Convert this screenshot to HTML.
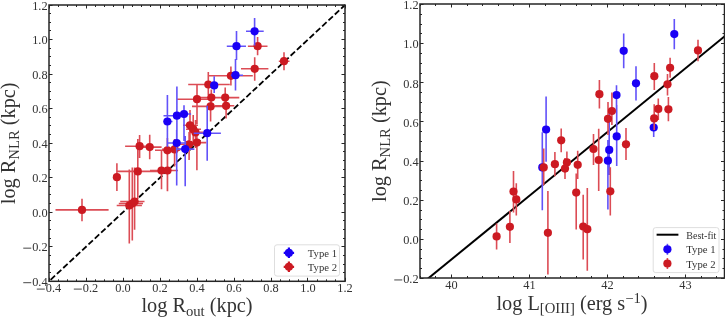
<!DOCTYPE html>
<html><head><meta charset="utf-8"><style>
html,body{margin:0;padding:0;background:#fff;width:725px;height:317px;overflow:hidden}
svg{display:block;will-change:transform}
text{font-family:"Liberation Serif",serif}
</style></head><body>
<svg width="725" height="317" viewBox="0 0 725 317">
<rect width="725" height="317" fill="#fff"/>
<line x1="49" y1="281.3" x2="345" y2="5" stroke="#000" stroke-width="1.8" stroke-dasharray="6.03 2.61" stroke-dashoffset="6.46"/>
<path d="M247.9 46.2H267.5M257.6 37.0V55.3M241.0 68.8H268.4M254.7 57.3V80.7M278.8 61.2H289.5M284.0 52.3V70.3M208.8 75.8H252.8M230.9 66.4V85.4M188.2 84.5H229.8M208.3 72.1V95.0M177.1 99.2H209.0M197.0 84.0V124.0M200.0 97.5H222.0M211.3 89.4V108.0M212.0 97.6H239.3M225.2 87.5V110.0M192.0 106.4H225.0M210.6 96.0V121.6M215.0 105.8H234.3M226.1 95.0V118.5M183.0 125.3H198.0M190.0 110.0V140.0M186.0 129.2H201.0M193.2 115.0V145.0M189.0 132.4H203.0M195.5 120.0V148.0M188.0 142.6H206.3M196.9 130.0V170.3M175.0 144.3H200.0M189.1 132.0V160.0M155.0 150.3H180.0M167.4 138.0V191.0M162.0 149.4H186.0M174.6 139.0V166.5M125.1 146.2H152.0M139.6 135.0V157.9M138.0 147.1H161.6M149.7 134.7V159.2M117.0 171.4H162.4M137.8 139.0V199.0M150.0 170.5H172.0M161.5 150.0V189.3M155.0 170.5H178.0M167.5 150.0V191.2M113.0 177.2H120.0M116.9 163.2V191.0M116.7 205.5H141.9M129.3 169.5V243.5M118.8 203.5H143.0M132.3 167.6V240.4M120.2 201.5H144.5M134.6 167.6V229.7M55.5 209.9H108.6M82.0 198.8V221.3" stroke="#dc4c55" stroke-width="1.6" fill="none"/>
<circle cx="257.6" cy="46.2" r="4.1" fill="#cc1a22"/>
<circle cx="254.7" cy="68.8" r="4.1" fill="#cc1a22"/>
<circle cx="284.0" cy="61.2" r="4.1" fill="#cc1a22"/>
<circle cx="230.9" cy="75.8" r="4.1" fill="#cc1a22"/>
<circle cx="208.3" cy="84.5" r="4.1" fill="#cc1a22"/>
<circle cx="197.0" cy="99.2" r="4.1" fill="#cc1a22"/>
<circle cx="211.3" cy="97.5" r="4.1" fill="#cc1a22"/>
<circle cx="225.2" cy="97.6" r="4.1" fill="#cc1a22"/>
<circle cx="210.6" cy="106.4" r="4.1" fill="#cc1a22"/>
<circle cx="226.1" cy="105.8" r="4.1" fill="#cc1a22"/>
<circle cx="190.0" cy="125.3" r="4.1" fill="#cc1a22"/>
<circle cx="193.2" cy="129.2" r="4.1" fill="#cc1a22"/>
<circle cx="195.5" cy="132.4" r="4.1" fill="#cc1a22"/>
<circle cx="196.9" cy="142.6" r="4.1" fill="#cc1a22"/>
<circle cx="189.1" cy="144.3" r="4.1" fill="#cc1a22"/>
<circle cx="167.4" cy="150.3" r="4.1" fill="#cc1a22"/>
<circle cx="174.6" cy="149.4" r="4.1" fill="#cc1a22"/>
<circle cx="139.6" cy="146.2" r="4.1" fill="#cc1a22"/>
<circle cx="149.7" cy="147.1" r="4.1" fill="#cc1a22"/>
<circle cx="137.8" cy="171.4" r="4.1" fill="#cc1a22"/>
<circle cx="161.5" cy="170.5" r="4.1" fill="#cc1a22"/>
<circle cx="167.5" cy="170.5" r="4.1" fill="#cc1a22"/>
<circle cx="116.9" cy="177.2" r="4.1" fill="#cc1a22"/>
<circle cx="129.3" cy="205.5" r="4.1" fill="#cc1a22"/>
<circle cx="132.3" cy="203.5" r="4.1" fill="#cc1a22"/>
<circle cx="134.6" cy="201.5" r="4.1" fill="#cc1a22"/>
<circle cx="82.0" cy="209.9" r="4.1" fill="#cc1a22"/>
<path d="M246.0 31.3H263.7M254.6 17.9V45.5M226.8 46.2H246.0M236.5 31.1V60.0M230.9 75.2H243.0M235.5 59.0V90.6M211.0 85.4H217.0M214.2 76.3V93.1M163.5 121.5H172.5M167.4 95.0V146.7M163.5 115.7H184.0M176.9 86.6V146.0M177.0 114.0H191.1M184.0 105.3V141.0M193.7 133.2H220.9M207.2 105.8V160.8M167.4 143.0H186.3M176.7 130.0V185.4M176.9 149.1H194.4M185.2 136.0V186.3" stroke="#6252f9" stroke-width="1.6" fill="none"/>
<circle cx="254.6" cy="31.3" r="4.1" fill="#1a00f5"/>
<circle cx="236.5" cy="46.2" r="4.1" fill="#1a00f5"/>
<circle cx="235.5" cy="75.2" r="4.1" fill="#1a00f5"/>
<circle cx="214.2" cy="85.4" r="4.1" fill="#1a00f5"/>
<circle cx="167.4" cy="121.5" r="4.1" fill="#1a00f5"/>
<circle cx="176.9" cy="115.7" r="4.1" fill="#1a00f5"/>
<circle cx="184.0" cy="114.0" r="4.1" fill="#1a00f5"/>
<circle cx="207.2" cy="133.2" r="4.1" fill="#1a00f5"/>
<circle cx="176.7" cy="143.0" r="4.1" fill="#1a00f5"/>
<circle cx="185.2" cy="149.1" r="4.1" fill="#1a00f5"/>
<rect x="49" y="5" width="296" height="276.3" fill="none" stroke="#262626" stroke-width="1.5"/>
<path d="M49.50 281.3v-3.5M49.50 5v3.5M86.50 281.3v-3.5M86.50 5v3.5M123.50 281.3v-3.5M123.50 5v3.5M160.50 281.3v-3.5M160.50 5v3.5M197.50 281.3v-3.5M197.50 5v3.5M234.50 281.3v-3.5M234.50 5v3.5M271.50 281.3v-3.5M271.50 5v3.5M307.50 281.3v-3.5M307.50 5v3.5M345.50 281.3v-3.5M345.50 5v3.5M58.50 281.3v-2.0M58.50 5v2.0M67.50 281.3v-2.0M67.50 5v2.0M76.50 281.3v-2.0M76.50 5v2.0M95.50 281.3v-2.0M95.50 5v2.0M104.50 281.3v-2.0M104.50 5v2.0M113.50 281.3v-2.0M113.50 5v2.0M132.50 281.3v-2.0M132.50 5v2.0M141.50 281.3v-2.0M141.50 5v2.0M150.50 281.3v-2.0M150.50 5v2.0M169.50 281.3v-2.0M169.50 5v2.0M178.50 281.3v-2.0M178.50 5v2.0M187.50 281.3v-2.0M187.50 5v2.0M206.50 281.3v-2.0M206.50 5v2.0M215.50 281.3v-2.0M215.50 5v2.0M224.50 281.3v-2.0M224.50 5v2.0M243.50 281.3v-2.0M243.50 5v2.0M252.50 281.3v-2.0M252.50 5v2.0M261.50 281.3v-2.0M261.50 5v2.0M280.50 281.3v-2.0M280.50 5v2.0M289.50 281.3v-2.0M289.50 5v2.0M298.50 281.3v-2.0M298.50 5v2.0M317.50 281.3v-2.0M317.50 5v2.0M326.50 281.3v-2.0M326.50 5v2.0M335.50 281.3v-2.0M335.50 5v2.0M49 281.50h3.5M345 281.50h-3.5M49 246.50h3.5M345 246.50h-3.5M49 212.50h3.5M345 212.50h-3.5M49 177.50h3.5M345 177.50h-3.5M49 143.50h3.5M345 143.50h-3.5M49 108.50h3.5M345 108.50h-3.5M49 74.50h3.5M345 74.50h-3.5M49 39.50h3.5M345 39.50h-3.5M49 5.50h3.5M345 5.50h-3.5M49 272.50h2.0M345 272.50h-2.0M49 264.50h2.0M345 264.50h-2.0M49 255.50h2.0M345 255.50h-2.0M49 238.50h2.0M345 238.50h-2.0M49 229.50h2.0M345 229.50h-2.0M49 220.50h2.0M345 220.50h-2.0M49 203.50h2.0M345 203.50h-2.0M49 194.50h2.0M345 194.50h-2.0M49 186.50h2.0M345 186.50h-2.0M49 169.50h2.0M345 169.50h-2.0M49 160.50h2.0M345 160.50h-2.0M49 151.50h2.0M345 151.50h-2.0M49 134.50h2.0M345 134.50h-2.0M49 125.50h2.0M345 125.50h-2.0M49 117.50h2.0M345 117.50h-2.0M49 99.50h2.0M345 99.50h-2.0M49 91.50h2.0M345 91.50h-2.0M49 82.50h2.0M345 82.50h-2.0M49 65.50h2.0M345 65.50h-2.0M49 56.50h2.0M345 56.50h-2.0M49 48.50h2.0M345 48.50h-2.0M49 30.50h2.0M345 30.50h-2.0M49 22.50h2.0M345 22.50h-2.0M49 13.50h2.0M345 13.50h-2.0" stroke="#262626" stroke-width="1" fill="none"/>
<g font-family="Liberation Serif, serif" font-size="13" fill="#333333"><path d="M36.83 289.10H44.83" stroke="#333333" stroke-width="0.9"/><text transform="matrix(0.95 0 0 1.0 45.73 292.40)">0.4</text><path d="M23.26 282.70H31.26" stroke="#333333" stroke-width="0.9"/><text transform="matrix(0.95 0 0 1.0 47.60 286.00)" text-anchor="end">0.4</text><path d="M73.83 289.10H81.83" stroke="#333333" stroke-width="0.9"/><text transform="matrix(0.95 0 0 1.0 82.73 292.40)">0.2</text><path d="M23.26 248.16H31.26" stroke="#333333" stroke-width="0.9"/><text transform="matrix(0.95 0 0 1.0 47.60 251.46)" text-anchor="end">0.2</text><text transform="matrix(0.95 0 0 1.0 115.28 292.40)">0.0</text><text transform="matrix(0.95 0 0 1.0 47.60 216.93)" text-anchor="end">0.0</text><text transform="matrix(0.95 0 0 1.0 152.28 292.40)">0.2</text><text transform="matrix(0.95 0 0 1.0 47.60 182.39)" text-anchor="end">0.2</text><text transform="matrix(0.95 0 0 1.0 189.28 292.40)">0.4</text><text transform="matrix(0.95 0 0 1.0 47.60 147.85)" text-anchor="end">0.4</text><text transform="matrix(0.95 0 0 1.0 226.28 292.40)">0.6</text><text transform="matrix(0.95 0 0 1.0 47.60 113.31)" text-anchor="end">0.6</text><text transform="matrix(0.95 0 0 1.0 263.28 292.40)">0.8</text><text transform="matrix(0.95 0 0 1.0 47.60 78.77)" text-anchor="end">0.8</text><text transform="matrix(0.95 0 0 1.0 300.28 292.40)">1.0</text><text transform="matrix(0.95 0 0 1.0 47.60 44.24)" text-anchor="end">1.0</text><text transform="matrix(0.95 0 0 1.0 337.28 292.40)">1.2</text><text transform="matrix(0.95 0 0 1.0 47.60 9.70)" text-anchor="end">1.2</text></g>
<text x="197" y="312.3" text-anchor="middle" font-family="Liberation Serif, serif" font-size="20.3" fill="#333333">log R<tspan font-size="14.7" dy="3.5">out</tspan><tspan dy="-3.5"> (kpc)</tspan></text>
<text transform="translate(15.2 143.3) rotate(-90)" text-anchor="middle" font-family="Liberation Serif, serif" font-size="20.3" fill="#333333">log R<tspan font-size="14.7" dy="3.5">NLR</tspan><tspan dy="-3.5"> (kpc)</tspan></text>
<rect x="274.5" y="244.8" width="65" height="31.3" rx="2.5" fill="#fff" fill-opacity="0.8" stroke="#dedede" stroke-width="1"/>
<path d="M283.7 252.8h10.4M288.9 247.60000000000002v10.4" stroke="#1a00f5" stroke-width="2.2"/>
<circle cx="288.9" cy="252.8" r="4.1" fill="#1a00f5"/>
<text x="307.8" y="256.8" font-family="Liberation Serif, serif" font-size="10.8" fill="#333333" textLength="29.2" lengthAdjust="spacingAndGlyphs">Type 1</text>
<path d="M283.7 266.8h10.4M288.9 261.6v10.4" stroke="#cc1a22" stroke-width="2.2"/>
<circle cx="288.9" cy="266.8" r="4.1" fill="#cc1a22"/>
<text x="307.8" y="270.8" font-family="Liberation Serif, serif" font-size="10.8" fill="#333333" textLength="29.2" lengthAdjust="spacingAndGlyphs">Type 2</text>
<clipPath id="rc"><rect x="420" y="4" width="304.5" height="274"/></clipPath>
<line x1="426.26" y1="280" x2="726.5" y2="34.77" stroke="#000" stroke-width="2" clip-path="url(#rc)"/>
<path d="M674.3 19.1V49.3M623.7 33.6V68.3M636.0 66.3V100.4M616.5 85.3V110.0M616.7 105.0V165.9M609.2 113.5V175.0M607.9 140.0V209.5M653.7 122.0V137.0M546.1 96.6V161.7M542.3 132.3V210.2" stroke="#6252f9" stroke-width="1.6" fill="none"/>
<circle cx="674.3" cy="34.1" r="4.1" fill="#1a00f5"/>
<circle cx="623.7" cy="50.8" r="4.1" fill="#1a00f5"/>
<circle cx="636.0" cy="83.3" r="4.1" fill="#1a00f5"/>
<circle cx="616.5" cy="95.1" r="4.1" fill="#1a00f5"/>
<circle cx="616.7" cy="136.4" r="4.1" fill="#1a00f5"/>
<circle cx="609.2" cy="149.9" r="4.1" fill="#1a00f5"/>
<circle cx="607.9" cy="160.7" r="4.1" fill="#1a00f5"/>
<circle cx="653.7" cy="127.5" r="4.1" fill="#1a00f5"/>
<circle cx="546.1" cy="129.5" r="4.1" fill="#1a00f5"/>
<circle cx="542.3" cy="167.4" r="4.1" fill="#1a00f5"/>
<path d="M698.0 39.8V61.2M670.1 57.8V77.7M654.3 63.0V90.0M667.5 73.9V95.6M599.4 80.0V108.4M611.9 92.6V125.0M608.0 102.1V135.0M658.3 98.5V120.0M668.4 97.0V121.3M654.2 104.2V130.0M626.0 128.0V160.0M593.5 134.0V165.0M598.7 128.7V191.0M610.3 167.2V215.4M561.2 128.4V152.2M543.7 148.5V185.2M554.9 151.9V176.2M566.9 151.6V172.0M565.0 158.0V179.0M577.7 150.7V179.0M576.2 173.4V229.4M547.9 191.0V274.5M583.2 194.8V259.4M587.3 188.0V270.8M513.5 171.0V212.5M516.3 183.2V215.4M509.9 211.0V243.1M496.6 223.6V249.4" stroke="#dc4c55" stroke-width="1.6" fill="none"/>
<circle cx="698.0" cy="50.4" r="4.1" fill="#cc1a22"/>
<circle cx="670.1" cy="67.8" r="4.1" fill="#cc1a22"/>
<circle cx="654.3" cy="76.2" r="4.1" fill="#cc1a22"/>
<circle cx="667.5" cy="84.3" r="4.1" fill="#cc1a22"/>
<circle cx="599.4" cy="94.2" r="4.1" fill="#cc1a22"/>
<circle cx="611.9" cy="111.0" r="4.1" fill="#cc1a22"/>
<circle cx="608.0" cy="118.8" r="4.1" fill="#cc1a22"/>
<circle cx="658.3" cy="108.9" r="4.1" fill="#cc1a22"/>
<circle cx="668.4" cy="109.3" r="4.1" fill="#cc1a22"/>
<circle cx="654.2" cy="118.4" r="4.1" fill="#cc1a22"/>
<circle cx="626.0" cy="144.3" r="4.1" fill="#cc1a22"/>
<circle cx="593.5" cy="149.0" r="4.1" fill="#cc1a22"/>
<circle cx="598.7" cy="160.0" r="4.1" fill="#cc1a22"/>
<circle cx="610.3" cy="191.3" r="4.1" fill="#cc1a22"/>
<circle cx="561.2" cy="140.3" r="4.1" fill="#cc1a22"/>
<circle cx="543.7" cy="167.4" r="4.1" fill="#cc1a22"/>
<circle cx="554.9" cy="164.2" r="4.1" fill="#cc1a22"/>
<circle cx="566.9" cy="162.4" r="4.1" fill="#cc1a22"/>
<circle cx="565.0" cy="168.6" r="4.1" fill="#cc1a22"/>
<circle cx="577.7" cy="164.8" r="4.1" fill="#cc1a22"/>
<circle cx="576.2" cy="192.6" r="4.1" fill="#cc1a22"/>
<circle cx="547.9" cy="232.8" r="4.1" fill="#cc1a22"/>
<circle cx="583.2" cy="226.5" r="4.1" fill="#cc1a22"/>
<circle cx="587.3" cy="229.2" r="4.1" fill="#cc1a22"/>
<circle cx="513.5" cy="191.6" r="4.1" fill="#cc1a22"/>
<circle cx="516.3" cy="199.4" r="4.1" fill="#cc1a22"/>
<circle cx="509.9" cy="226.8" r="4.1" fill="#cc1a22"/>
<circle cx="496.6" cy="236.4" r="4.1" fill="#cc1a22"/>
<rect x="420" y="4" width="304.5" height="274" fill="none" stroke="#262626" stroke-width="1.5"/>
<path d="M451.50 278v-3.5M451.50 4v3.5M529.50 278v-3.5M529.50 4v3.5M607.50 278v-3.5M607.50 4v3.5M685.50 278v-3.5M685.50 4v3.5M420.50 278v-2.0M420.50 4v2.0M435.50 278v-2.0M435.50 4v2.0M467.50 278v-2.0M467.50 4v2.0M482.50 278v-2.0M482.50 4v2.0M498.50 278v-2.0M498.50 4v2.0M513.50 278v-2.0M513.50 4v2.0M545.50 278v-2.0M545.50 4v2.0M560.50 278v-2.0M560.50 4v2.0M576.50 278v-2.0M576.50 4v2.0M591.50 278v-2.0M591.50 4v2.0M623.50 278v-2.0M623.50 4v2.0M638.50 278v-2.0M638.50 4v2.0M654.50 278v-2.0M654.50 4v2.0M669.50 278v-2.0M669.50 4v2.0M701.50 278v-2.0M701.50 4v2.0M716.50 278v-2.0M716.50 4v2.0M420 278.50h3.5M724.5 278.50h-3.5M420 239.50h3.5M724.5 239.50h-3.5M420 200.50h3.5M724.5 200.50h-3.5M420 161.50h3.5M724.5 161.50h-3.5M420 121.50h3.5M724.5 121.50h-3.5M420 82.50h3.5M724.5 82.50h-3.5M420 43.50h3.5M724.5 43.50h-3.5M420 4.50h3.5M724.5 4.50h-3.5M420 268.50h2.0M724.5 268.50h-2.0M420 258.50h2.0M724.5 258.50h-2.0M420 249.50h2.0M724.5 249.50h-2.0M420 229.50h2.0M724.5 229.50h-2.0M420 219.50h2.0M724.5 219.50h-2.0M420 210.50h2.0M724.5 210.50h-2.0M420 190.50h2.0M724.5 190.50h-2.0M420 180.50h2.0M724.5 180.50h-2.0M420 170.50h2.0M724.5 170.50h-2.0M420 151.50h2.0M724.5 151.50h-2.0M420 141.50h2.0M724.5 141.50h-2.0M420 131.50h2.0M724.5 131.50h-2.0M420 112.50h2.0M724.5 112.50h-2.0M420 102.50h2.0M724.5 102.50h-2.0M420 92.50h2.0M724.5 92.50h-2.0M420 73.50h2.0M724.5 73.50h-2.0M420 63.50h2.0M724.5 63.50h-2.0M420 53.50h2.0M724.5 53.50h-2.0M420 33.50h2.0M724.5 33.50h-2.0M420 24.50h2.0M724.5 24.50h-2.0M420 14.50h2.0M724.5 14.50h-2.0" stroke="#262626" stroke-width="1" fill="none"/>
<g font-family="Liberation Serif, serif" font-size="13" fill="#333333"><text transform="matrix(0.95 0 0 1.0 451.4 289.1)" text-anchor="middle">40</text><text transform="matrix(0.95 0 0 1.0 529.4 289.1)" text-anchor="middle">41</text><text transform="matrix(0.95 0 0 1.0 607.4 289.1)" text-anchor="middle">42</text><text transform="matrix(0.95 0 0 1.0 685.4 289.1)" text-anchor="middle">43</text><path d="M394.26 279.94H402.26" stroke="#333333" stroke-width="0.9"/><text transform="matrix(0.95 0 0 1.0 418.60 283.24)" text-anchor="end">0.2</text><text transform="matrix(0.95 0 0 1.0 418.60 244.10)" text-anchor="end">0.0</text><text transform="matrix(0.95 0 0 1.0 418.60 204.96)" text-anchor="end">0.2</text><text transform="matrix(0.95 0 0 1.0 418.60 165.82)" text-anchor="end">0.4</text><text transform="matrix(0.95 0 0 1.0 418.60 126.68)" text-anchor="end">0.6</text><text transform="matrix(0.95 0 0 1.0 418.60 87.54)" text-anchor="end">0.8</text><text transform="matrix(0.95 0 0 1.0 418.60 48.40)" text-anchor="end">1.0</text><text transform="matrix(0.95 0 0 1.0 418.60 9.26)" text-anchor="end">1.2</text></g>
<text x="572" y="309.7" text-anchor="middle" font-family="Liberation Serif, serif" font-size="20.3" fill="#333333">log L<tspan font-size="14.7" dy="3.5">[OIII]</tspan><tspan dy="-3.5"> (erg s</tspan><tspan font-size="14.7" dy="-7">−1</tspan><tspan dy="7">)</tspan></text>
<text transform="translate(386.2 141.1) rotate(-90)" text-anchor="middle" font-family="Liberation Serif, serif" font-size="20.3" fill="#333333">log R<tspan font-size="14.7" dy="3.5">NLR</tspan><tspan dy="-3.5"> (kpc)</tspan></text>
<rect x="653.2" y="227.6" width="65.8" height="45" rx="2.5" fill="#fff" fill-opacity="0.8" stroke="#dedede" stroke-width="1"/>
<path d="M656.6 234.7H678.4" stroke="#000" stroke-width="2"/>
<text x="686.3" y="238.5" font-family="Liberation Serif, serif" font-size="10.8" fill="#333333" textLength="30" lengthAdjust="spacingAndGlyphs">Best-fit</text>
<path d="M667.4 243.8v11" stroke="#6252f9" stroke-width="1.6"/>
<circle cx="667.4" cy="249.3" r="4.1" fill="#1a00f5"/>
<text x="686.3" y="253.3" font-family="Liberation Serif, serif" font-size="10.8" fill="#333333" textLength="29.2" lengthAdjust="spacingAndGlyphs">Type 1</text>
<path d="M667.4 258.0v11" stroke="#dc4c55" stroke-width="1.6"/>
<circle cx="667.4" cy="263.5" r="4.1" fill="#cc1a22"/>
<text x="686.3" y="267.5" font-family="Liberation Serif, serif" font-size="10.8" fill="#333333" textLength="29.2" lengthAdjust="spacingAndGlyphs">Type 2</text>
</svg>
</body></html>
